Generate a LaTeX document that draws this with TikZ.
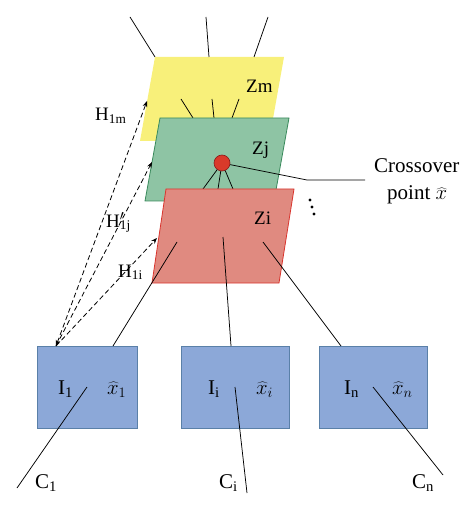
\documentclass[tikz,border=0pt]{standalone}
\usepackage{fontspec}
\setmainfont{Liberation Serif}
\usetikzlibrary{arrows.meta}
\definecolor{ylw}{RGB}{248,240,122}
\definecolor{grnf}{RGB}{142,196,164}
\definecolor{grnd}{RGB}{58,138,92}
\definecolor{redf}{RGB}{224,138,128}
\definecolor{redd}{RGB}{217,53,46}
\definecolor{bluf}{RGB}{140,168,216}
\definecolor{blud}{RGB}{90,128,168}
\definecolor{dotf}{RGB}{217,58,42}
\definecolor{dotd}{RGB}{139,26,26}
\begin{document}
\begin{tikzpicture}[x=1pt,y=-1pt,
  lbl/.style={inner sep=0pt,anchor=base west,font=\fontsize{21}{25}\selectfont},
  slbl/.style={inner sep=0pt,anchor=base west,font=\fontsize{19}{23}\selectfont},
  ibox/.style={draw=blud,line width=0.8pt,fill=bluf,minimum height=82pt,inner sep=0pt},
  thin/.style={line width=0.75pt,black},
  harrow/.style={line width=0.8pt,dash pattern=on 5pt off 3pt,-{Stealth[length=6pt,width=4.5pt]}}]
\useasboundingbox (0,0) rectangle (474,510);
% yellow layer Zm
\fill[ylw] (155,57) -- (284,57) -- (269,141) -- (140,141) -- cycle;
\coordinate (ytl) at (155,57);
\coordinate (ytm) at (209,57);
\coordinate (ytr) at (254,57);
\coordinate (u1) at (130,17);
\coordinate (u2) at (206,17);
\coordinate (u3) at (268,17);
\draw[thin] (u1) -- (ytl);
\draw[thin] (u2) -- (ytm);
\draw[thin] (u3) -- (ytr);
\coordinate (yb1) at (181,99);
\coordinate (yb2) at (212,99);
\coordinate (yb3) at (239,99);
\coordinate (gt1) at (193,118);
\coordinate (gt2) at (214,118);
\coordinate (gt3) at (232,118);
\draw[thin] (yb1) -- (gt1);
\draw[thin] (yb2) -- (gt2);
\draw[thin] (yb3) -- (gt3);
% green layer Zj
\draw[grnd,line width=0.8pt,fill=grnf] (160,118) -- (289,118) -- (274,201) -- (145,201) -- cycle;
% crossover point
\coordinate (rt1) at (203,189);
\coordinate (rt2) at (218,189);
\coordinate (rt3) at (233,189);
\node[circle,draw=dotd,fill=dotf,line width=0.6pt,minimum size=16pt,inner sep=0pt] (cp) at (222,163) {};
\draw[thin] (cp) -- (rt1);
\draw[thin] (cp) -- (rt2);
\draw[thin] (cp) -- (rt3);
\coordinate (cbend) at (307,180);
\coordinate (cend) at (365,180);
\draw[thin] (cp) -- (cbend) -- (cend);
% red layer Zi
\draw[redd,line width=0.8pt,fill=redf] (166,189) -- (294,189) -- (279,283) -- (152,283) -- cycle;
% labels of layers
\node[slbl] (zm) at (246,93) {Zm};
\node[slbl] (zj) at (252,155) {Zj};
\node[slbl] (zi) at (254,225) {Zi};
% dots
\fill (310,200) circle (1.6pt);
\fill (312,207) circle (1.6pt);
\fill (314,214) circle (1.6pt);
% crossover text
\node[lbl] (cx1) at (374,173) {Crossover};
\node[lbl] (cx2) at (387,200) {point $\widehat{x}$};
% boxes
\node[ibox,minimum width=100pt] (b1) at (87,387) {};
\node[ibox,minimum width=108pt] (bi) at (235,387) {};
\node[ibox,minimum width=108pt] (bn) at (373,387) {};
% lines from boxes into red layer
\coordinate (r1) at (177,242);
\coordinate (r2) at (223,237);
\coordinate (r3) at (263,242);
\coordinate (b1t) at (113,346);
\coordinate (bit) at (231,346);
\coordinate (bnt) at (341,346);
\draw[thin] (b1t) -- (r1);
\draw[thin] (bit) -- (r2);
\draw[thin] (bnt) -- (r3);
% box labels
\node[lbl] (l1) at (58,394) {I\textsubscript{1}};
\node[lbl] (x1) at (107,394) {$\widehat{x}_1$};
\node[lbl] (li) at (208,394) {I\textsubscript{i}};
\node[lbl] (xi) at (256,394) {$\widehat{x}_i$};
\node[lbl] (ln) at (344,394) {I\textsubscript{n}};
\node[lbl] (xn) at (392,394) {$\widehat{x}_n$};
% C lines
\coordinate (c1e) at (17,488);
\coordinate (cie) at (247,493);
\coordinate (cne) at (443,475);
\draw[thin] (b1.center) -- (c1e);
\draw[thin] (bi.center) -- (cie);
\draw[thin] (bn.center) -- (cne);
\node[lbl] (c1) at (35,488) {C\textsubscript{1}};
\node[lbl] (ci) at (219,488) {C\textsubscript{i}};
\node[lbl] (cn) at (412,488) {C\textsubscript{n}};
% dashed arrows H
\coordinate (hs) at (56,346);
\coordinate (hm) at (147,101);
\coordinate (hj) at (152,162);
\coordinate (hi) at (157,238);
\draw[harrow,{Stealth[length=6pt,width=4.5pt]}-{Stealth[length=6pt,width=4.5pt]}] (hs) -- (hm);
\draw[harrow] (hs) -- (hj);
\draw[harrow] (hs) -- (hi);
\node[slbl] (h1m) at (95,121) {H\textsubscript{1m}};
\node[slbl] (h1j) at (106,227) {H\rlap{$^{\prime}$}\textsubscript{1j}};
\node[slbl] (h1i) at (118,277) {H\textsubscript{1i}};
\end{tikzpicture}
\end{document}
